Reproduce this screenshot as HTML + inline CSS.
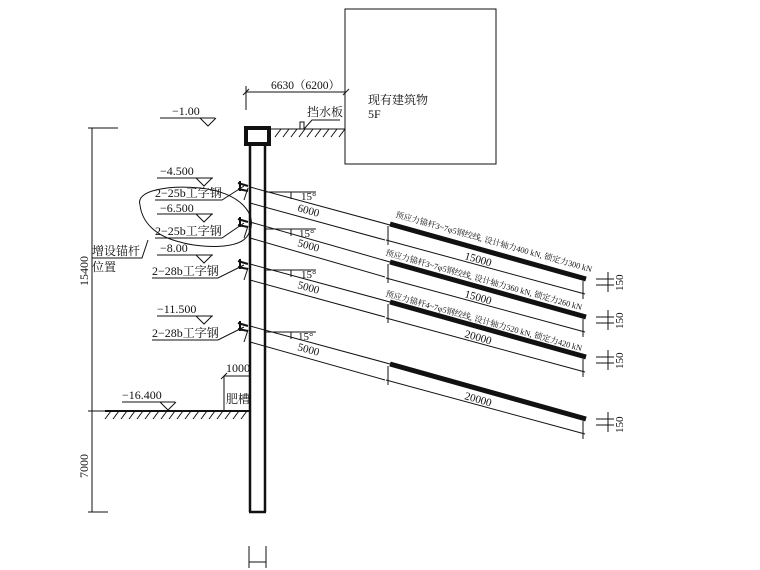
<!DOCTYPE html>
<html><head><meta charset="utf-8"><style>
html,body{margin:0;padding:0;background:#fff;}
svg{display:block;}
text{font-family:"Liberation Serif","Noto Serif CJK SC",serif;fill:#111;}
</style></head><body>
<svg width="760" height="570" viewBox="0 0 760 570" xmlns="http://www.w3.org/2000/svg">
<g stroke="#111" fill="none" stroke-width="1">
<rect x="345" y="9" width="151" height="155"/>
<line x1="246" y1="92" x2="346" y2="92"/>
<line x1="246" y1="86" x2="246" y2="110"/>
<line x1="243" y1="95" x2="249" y2="89"/><line x1="343" y1="95" x2="349" y2="89"/>
<line x1="270" y1="129" x2="345" y2="129"/>
<path d="M275 137l6-8M283 137l6-8M291 137l6-8M299 137l6-8M307 137l6-8M315 137l6-8M323 137l6-8M331 137l6-8M339 137l6-8"/>
<rect x="300" y="122" width="4" height="7"/>
<polyline points="304,129 312,120 340,120"/>
<rect x="246" y="128" width="23" height="16" stroke-width="4"/>
<line x1="250" y1="144" x2="250" y2="512" stroke-width="2.5"/>
<line x1="265" y1="144" x2="265" y2="512" stroke-width="2.5"/>
<line x1="249" y1="512" x2="266" y2="512" stroke-width="2.5"/>
<line x1="249" y1="546" x2="249" y2="568"/><line x1="266" y1="546" x2="266" y2="568"/>
<line x1="249" y1="562" x2="266" y2="562"/>
<line x1="92" y1="128" x2="92" y2="512"/>
<line x1="88" y1="128" x2="118" y2="128"/>
<line x1="88" y1="411" x2="105" y2="411"/>
<line x1="88" y1="512" x2="108" y2="512"/>
<line x1="105" y1="411" x2="249" y2="411" stroke-width="2"/>
<path d="M105 419l6-8M113 419l6-8M121 419l6-8M129 419l6-8M137 419l6-8M145 419l6-8M153 419l6-8M161 419l6-8M169 419l6-8M177 419l6-8M185 419l6-8M193 419l6-8M201 419l6-8M209 419l6-8M217 419l6-8M225 419l6-8M233 419l6-8M241 419l6-8"/>
<line x1="122" y1="402" x2="175" y2="402"/>
<polyline points="160,402 168,410 176,402"/>
<line x1="224" y1="376" x2="224" y2="411"/>
<line x1="224" y1="376" x2="249" y2="376"/>
<line x1="221" y1="379" x2="227" y2="373"/>
<line x1="160" y1="118" x2="215" y2="118"/><polyline points="200,118 208,126 216,118"/>
<line x1="157" y1="178" x2="213" y2="178"/><polyline points="196,178 204,186 212,178"/>
<line x1="157" y1="214" x2="213" y2="214"/><polyline points="196,214 204,222 212,214"/>
<line x1="157" y1="255" x2="213" y2="255"/><polyline points="196,255 204,263 212,255"/>
<line x1="157" y1="316" x2="213" y2="316"/><polyline points="196,316 204,324 212,316"/>
<polyline points="155,200 222,200 244,186"/>
<polyline points="155,238 222,238 244,223"/>
<polyline points="152,278 218,278 244,265"/>
<polyline points="152,340 218,340 244,327"/>
<path d="M140 205 C135 190 170 185 200 188 C240 192 260 215 248 235 C240 250 200 248 180 242 C155 236 142 222 140 205Z"/>
<polyline points="92,258 142,258 148,240"/>
<g stroke-width="2">
<path d="M238 183l10 3M238 189l10 2M240 181v10"/>
<path d="M238 219l10 3M238 225l10 2M240 217v10"/>
<path d="M238 261l10 3M238 267l10 2M240 259v10"/>
<path d="M238 323l10 3M238 329l10 2M240 321v10"/>
</g>
<path d="M244 200l4-12M244 238l4-12M244 280l4-12M244 342l4-12"/>
<line x1="250" y1="187" x2="390" y2="225"/>
<line x1="250" y1="203" x2="385" y2="240"/>
<line x1="250" y1="222" x2="390" y2="262"/>
<line x1="250" y1="238" x2="385" y2="277"/>
<line x1="250" y1="264" x2="390" y2="302"/>
<line x1="250" y1="280" x2="385" y2="317"/>
<line x1="250" y1="326" x2="390" y2="364"/>
<line x1="250" y1="342" x2="385" y2="380"/>
<line x1="266" y1="192" x2="316" y2="192"/><line x1="291" y1="192" x2="291" y2="199"/>
<line x1="266" y1="229" x2="316" y2="229"/><line x1="291" y1="229" x2="291" y2="236"/>
<line x1="266" y1="270" x2="316" y2="270"/><line x1="291" y1="270" x2="291" y2="277"/>
<line x1="266" y1="332" x2="316" y2="332"/><line x1="291" y1="332" x2="291" y2="339"/>
<g stroke-width="5">
<line x1="390" y1="224" x2="586" y2="279"/>
<line x1="390" y1="262" x2="586" y2="317"/>
<line x1="390" y1="302" x2="586" y2="357"/>
<line x1="390" y1="364" x2="586" y2="419"/>
</g>
<line x1="386" y1="240" x2="585" y2="294"/><line x1="388" y1="226" x2="388" y2="245"/><line x1="583" y1="281" x2="583" y2="299"/>
<line x1="386" y1="278" x2="585" y2="332"/><line x1="388" y1="264" x2="388" y2="283"/><line x1="583" y1="319" x2="583" y2="337"/>
<line x1="386" y1="318" x2="585" y2="372"/><line x1="388" y1="304" x2="388" y2="323"/><line x1="583" y1="359" x2="583" y2="377"/>
<line x1="386" y1="380" x2="585" y2="434"/><line x1="388" y1="366" x2="388" y2="385"/><line x1="583" y1="421" x2="583" y2="439"/>
<path d="M596 279h18M596 285h18M608 272v20"/>
<path d="M596 317h18M596 323h18M608 310v20"/>
<path d="M596 357h18M596 363h18M608 350v20"/>
<path d="M596 419h18M596 425h18M608 412v20"/>
</g>
<g font-size="12">
<text x="271" y="89" font-size="11.5">6630（6200）</text>
<text x="368" y="104">现有建筑物</text>
<text x="368" y="118">5F</text>
<text x="307" y="116">挡水板</text>
<text x="172" y="115">−1.00</text>
<text x="160" y="175">−4.500</text>
<text x="155" y="197">2−25b工字钢</text>
<text x="160" y="212">−6.500</text>
<text x="155" y="235">2−25b工字钢</text>
<text x="160" y="252">−8.00</text>
<text x="152" y="275">2−28b工字钢</text>
<text x="157" y="313">−11.500</text>
<text x="152" y="337">2−28b工字钢</text>
<text x="92" y="255">增设锚杆</text>
<text x="92" y="271">位置</text>
<text x="122" y="399">−16.400</text>
<text x="226" y="372">1000</text>
<text x="226" y="403">肥槽</text>
<text transform="translate(88,286) rotate(-90)">15400</text>
<text transform="translate(88,478) rotate(-90)">7000</text>
<text x="301" y="200" font-size="11">15°</text>
<text x="299" y="237" font-size="11">15°</text>
<text x="301" y="278" font-size="11">15°</text>
<text x="298" y="340" font-size="11">15°</text>
<text transform="translate(297,211) rotate(15.5)" font-size="11">6000</text>
<text transform="translate(297,246) rotate(15.5)" font-size="11">5000</text>
<text transform="translate(297,288) rotate(15.5)" font-size="11">5000</text>
<text transform="translate(297,350) rotate(15.5)" font-size="11">5000</text>
<text transform="translate(464,259) rotate(15.7)" font-size="11">15000</text>
<text transform="translate(464,297) rotate(15.7)" font-size="11">15000</text>
<text transform="translate(464,337) rotate(15.7)" font-size="11">20000</text>
<text transform="translate(464,399) rotate(15.7)" font-size="11">20000</text>
<g font-size="8.3">
<text transform="translate(395,217) rotate(15.7)">预应力锚杆3~7φ5钢绞线, 设计轴力400 kN, 锁定力300 kN</text>
<text transform="translate(385,255) rotate(15.7)">预应力锚杆3~7φ5钢绞线, 设计轴力360 kN, 锁定力260 kN</text>
<text transform="translate(385,296) rotate(15.7)">预应力锚杆4~7φ5钢绞线, 设计轴力520 kN, 锁定力420 kN</text>
</g>
<g font-size="11">
<text transform="translate(623,291) rotate(-90)">150</text>
<text transform="translate(623,329) rotate(-90)">150</text>
<text transform="translate(623,369) rotate(-90)">150</text>
<text transform="translate(623,433) rotate(-90)">150</text>
</g>
</g>
</svg>
</body></html>
